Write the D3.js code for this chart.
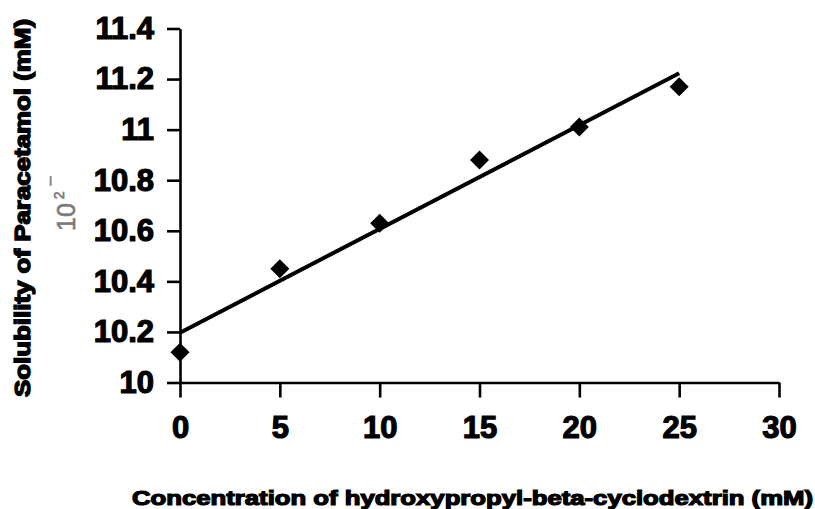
<!DOCTYPE html>
<html>
<head>
<meta charset="utf-8">
<script src="https://cdn.jsdelivr.net/npm/d3@7"></script>
<style>
  html, body { margin: 0; padding: 0; background: #fff; }
  svg { display: block; }
  text { font-family: "Liberation Sans", Arial, sans-serif; }
</style>
</head>
<body>
<svg id="chart" width="815" height="509"></svg>
<script>
// ---- data ----
const concentrations = [0, 5, 10, 15, 20, 25];           // mM HP-beta-CD
const solubility = [10.12, 10.45, 10.63, 10.88, 11.01, 11.17]; // x10^-2 mM
const xTicks = [0, 5, 10, 15, 20, 25, 30];
const yTicks = [10, 10.2, 10.4, 10.6, 10.8, 11, 11.2, 11.4];
const xTitle = "Concentration of hydroxypropyl-beta-cyclodextrin (mM)";
const yTitle = "Solubility of Paracetamol (mM)";

// ---- layout ----
const svg = d3.select("#chart");
const x = d3.scaleLinear().domain([0, 30]).range([180, 779]);
const y = d3.scaleLinear().domain([10, 11.4]).range([382.5, 28.5]);

// linear trendline (least squares fit of the points)
const n = concentrations.length;
const mx = d3.mean(concentrations), my = d3.mean(solubility);
let sxy = 0, sxx = 0;
for (let i = 0; i < n; i++) {
  sxy += (concentrations[i] - mx) * (solubility[i] - my);
  sxx += (concentrations[i] - mx) ** 2;
}
const slope = sxy / sxx, intercept = my - slope * mx;
const xMin = d3.min(concentrations), xMax = d3.max(concentrations);

// axes
const fmt = d => String(d);
const yAxis = d3.axisLeft(y).tickValues(yTicks).tickFormat(fmt)
  .tickSizeInner(13).tickSizeOuter(0).tickPadding(13);
const xAxis = d3.axisBottom(x).tickValues(xTicks).tickFormat(fmt)
  .tickSizeInner(15).tickSizeOuter(0).tickPadding(18);

const gy = svg.append("g").attr("transform", `translate(${x(0)},0)`).call(yAxis);
const gx = svg.append("g").attr("transform", `translate(0,${y(10)})`).call(xAxis);

[gx, gy].forEach(g => {
  g.select(".domain").attr("stroke", "#000").attr("stroke-width", 2.6);
  g.selectAll(".tick line").attr("stroke", "#000").attr("stroke-width", 2.6);
  g.selectAll(".tick text")
    .attr("font-size", 31).attr("font-weight", "bold")
    .attr("fill", "#000").attr("stroke", "#000").attr("stroke-width", 1.2)
    .attr("font-family", "'Liberation Sans', Arial, sans-serif");
});

// trendline
svg.append("line")
  .attr("x1", x(xMin)).attr("y1", y(intercept + slope * xMin))
  .attr("x2", x(xMax)).attr("y2", y(intercept + slope * xMax))
  .attr("stroke", "#000").attr("stroke-width", 4);

// diamond markers
const r = 9.5;
svg.append("g").selectAll("path")
  .data(concentrations.map((c, i) => [c, solubility[i]]))
  .join("path")
  .attr("d", d => {
    const cx = x(d[0]), cy = y(d[1]);
    return `M${cx},${cy - r}L${cx + r},${cy}L${cx},${cy + r}L${cx - r},${cy}Z`;
  })
  .attr("fill", "#000");

// y title
svg.append("text")
  .attr("transform", "translate(30,208) rotate(-90)")
  .attr("text-anchor", "middle")
  .attr("font-size", 22).attr("font-weight", "bold")
  .attr("stroke", "#000").attr("stroke-width", 1.4)
  .attr("textLength", 378).attr("lengthAdjust", "spacingAndGlyphs")
  .text(yTitle);

// grey 10^-2 unit marker
const unit = svg.append("text")
  .attr("transform", "translate(75,231) rotate(-90)")
  .attr("font-size", 25).attr("fill", "#7a7a7a")
  .attr("stroke", "#7a7a7a").attr("stroke-width", 0.6);
unit.append("tspan").text("10");
unit.append("tspan").attr("font-size", 14).attr("dx", 4).attr("dy", -11).text("2");
unit.append("tspan").attr("font-size", 16).attr("dx", 6).attr("dy", -9).text("–");

// x title
svg.append("text")
  .attr("x", 132).attr("y", 505)
  .attr("font-size", 20).attr("font-weight", "bold")
  .attr("stroke", "#000").attr("stroke-width", 1.2)
  .attr("textLength", 681).attr("lengthAdjust", "spacingAndGlyphs")
  .text(xTitle);
</script>
</body>
</html>
